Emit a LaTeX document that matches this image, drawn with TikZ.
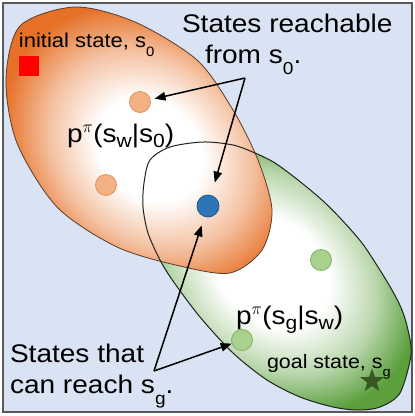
\documentclass[tikz,border=0pt]{standalone}
\usepackage{graphicx}
\usepackage{fontspec}
\setmainfont{Liberation Sans}[FakeStretch=1.1]
\usetikzlibrary{arrows.meta,shapes.geometric}
\definecolor{bgblue}{RGB}{218,227,243}
\definecolor{framegray}{RGB}{89,89,89}
\definecolor{orng}{RGB}{230,112,38}
\definecolor{grn}{RGB}{92,160,62}
\definecolor{orngline}{RGB}{90,62,45}
\definecolor{grnline}{RGB}{30,38,28}
\definecolor{odot}{RGB}{244,177,131}
\definecolor{odotline}{RGB}{222,146,96}
\definecolor{gdot}{RGB}{169,209,142}
\definecolor{gdotline}{RGB}{128,178,98}
\definecolor{bdot}{RGB}{46,117,182}
\definecolor{bdotline}{RGB}{37,88,140}
\definecolor{stargreen}{RGB}{56,87,35}
\pgfdeclareradialshading{oshade}{\pgfpointorigin}{color(0bp)=(white); color(9bp)=(white); color(17bp)=(orng!42!white); color(25bp)=(orng); color(50bp)=(orng)}
\pgfdeclareradialshading{gshade}{\pgfpointorigin}{color(0bp)=(white); color(10bp)=(white); color(18bp)=(grn!42!white); color(25bp)=(grn); color(50bp)=(grn)}
\newcommand{\lsub}[1]{\raisebox{-0.45em}{\scalebox{0.68}{#1}}}
\newcommand{\psub}[1]{\raisebox{-0.22em}{\scalebox{0.75}{#1}}}
\tikzset{
  lbl/.style={anchor=base west, inner sep=0pt, outer sep=0pt, text=black},
  bigtxt/.style={font=\fontsize{25.5}{30}\selectfont},
  smalltxt/.style={font=\fontsize{19.5}{23}\selectfont},
  odotst/.style={circle, fill=odot, draw=odotline, line width=0.8pt, minimum size=21pt, inner sep=0pt},
  gdotst/.style={circle, fill=gdot, draw=gdotline, line width=0.8pt, minimum size=21pt, inner sep=0pt},
  bdotst/.style={circle, fill=bdot, draw=bdotline, line width=0.8pt, minimum size=22pt, inner sep=0pt},
  arr/.style={draw=black, line width=1.5pt, -{Triangle[length=11pt,width=8.5pt]}},
}
\begin{document}
\begin{tikzpicture}[x=1pt, y=-1pt]
\useasboundingbox (0,0) rectangle (415,416);
% background frame
\fill[white] (0,0) rectangle (415,416);
\draw[fill=bgblue, draw=framegray, line width=2pt] (3,3) rectangle (412,412);
% green region
\begin{scope}
  \clip plot[smooth cycle] coordinates {(150,160) (170,147) (203,142) (233,145) (255,153) (275,163) (298,180) (322,200) (342,220) (362,243) (378,267) (392,290) (402,310) (408,330) (411,355) (400,393) (380,407) (358,410) (333,407) (300,397) (267,380) (233,353) (200,317) (173,281) (160,260) (148,233) (143,207) (144,183)};
  \fill[grn] (0,0) rectangle (415,416);
  \begin{scope}[transform canvas={shift={(272,272)}, rotate=-42}]
    \shade[shading=gshade] (0,0) ellipse (158 and 125);
  \end{scope}
\end{scope}
% orange region
\begin{scope}
  \clip plot[smooth cycle] coordinates {(75,7) (135,22) (197,60) (233,110) (258,160) (272,210) (262,250) (230,273) (180,266) (117,247) (57,207) (17,143) (6,80) (20,26)};
  \fill[orng] (0,0) rectangle (415,416);
  \begin{scope}[transform canvas={shift={(150,150)}, rotate=-42}]
    \shade[shading=oshade] (0,0) ellipse (160 and 130);
  \end{scope}
\end{scope}
% outlines
\draw[orngline, line width=0.8pt] plot[smooth cycle] coordinates {(75,7) (135,22) (197,60) (233,110) (258,160) (272,210) (262,250) (230,273) (180,266) (117,247) (57,207) (17,143) (6,80) (20,26)};
\draw[grnline, line width=1pt] plot[smooth cycle] coordinates {(150,160) (170,147) (203,142) (233,145) (255,153) (275,163) (298,180) (322,200) (342,220) (362,243) (378,267) (392,290) (402,310) (408,330) (411,355) (400,393) (380,407) (358,410) (333,407) (300,397) (267,380) (233,353) (200,317) (173,281) (160,260) (148,233) (143,207) (144,183)};
% states
\node[fill=red, minimum size=20pt, inner sep=0pt] (init) at (29,65.5) {};
\node[odotst] (od1) at (140,102) {};
\node[odotst] (od2) at (106,185) {};
\node[bdotst] (bd) at (208,206) {};
\node[gdotst] (gd1) at (321,260) {};
\node[gdotst] (gd2) at (242,340) {};
\node[star, star points=5, star point ratio=2.5, fill=stargreen, minimum size=25pt, inner sep=0pt] (goal) at (372,381) {};
% labels
\node[lbl, font=\fontsize{20}{24}\selectfont] (tinit) at (19,47) {initial state, s\lsub{0}};
\node[lbl, bigtxt] (treach1) at (182,32) {States reachable};
\node[lbl, bigtxt] (treach2) at (205,63) {from s\lsub{0}.};
\node[lbl, bigtxt] (pw) at (67,142) {p$^{\pi}$(s\psub{w}|s\psub{0})};
\node[lbl, bigtxt] (pg) at (236,324) {p$^{\pi}$(s\psub{g}|s\psub{w})};
\node[lbl, smalltxt] (tgoal) at (267,368) {goal state, s\lsub{g}};
\node[lbl, bigtxt] (tthat1) at (10,362) {States that};
\node[lbl, bigtxt] (tthat2) at (10,393) {can reach s\lsub{g}.};
% arrows
\coordinate (ftop) at (245,78);
\coordinate (fbot) at (154,371);
\draw[arr, shorten >=4pt] (ftop) -- (od1);
\draw[arr, shorten >=13pt] (ftop) -- (bd);
\draw[arr, shorten >=9pt] (fbot) -- (bd);
\draw[arr] (fbot) -- (gd2);
\end{tikzpicture}
\end{document}
